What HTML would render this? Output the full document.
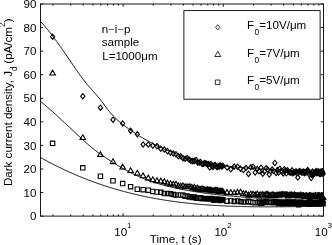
<!DOCTYPE html>
<html><head><meta charset="utf-8"><style>
html,body{margin:0;padding:0;background:#fff;width:332px;height:245px;overflow:hidden}
svg{display:block}
text{font-family:"Liberation Sans",Arial,Helvetica,sans-serif;fill:#000}
</style></head><body>
<svg width="332" height="245" viewBox="0 0 332 245">
<rect width="332" height="245" fill="#fff"/>
<g fill="none" stroke="#000" stroke-width="1">
<path d="M40.5 21.44 L41.21 22.2 L41.92 22.97 L42.63 23.75 L43.34 24.54 L44.05 25.35 L44.76 26.17 L45.46 27 L46.17 27.84 L46.88 28.7 L47.59 29.56 L48.3 30.44 L49.01 31.32 L49.72 32.22 L50.43 33.13 L51.14 34.04 L51.85 34.96 L52.56 35.9 L53.27 36.84 L53.98 37.79 L54.69 38.74 L55.39 39.7 L56.1 40.68 L56.81 41.65 L57.52 42.64 L58.23 43.63 L58.94 44.62 L59.65 45.62 L60.36 46.63 L61.07 47.64 L61.78 48.65 L62.49 49.67 L63.2 50.7 L63.91 51.72 L64.62 52.75 L65.32 53.78 L66.03 54.82 L66.74 55.86 L67.45 56.89 L68.16 57.94 L68.87 58.98 L69.58 60.02 L70.29 61.06 L71 62.11 L71.71 63.15 L72.42 64.19 L73.13 65.23 L73.84 66.27 L74.55 67.3 L75.25 68.33 L75.96 69.35 L76.67 70.37 L77.38 71.39 L78.09 72.39 L78.8 73.39 L79.51 74.38 L80.22 75.37 L80.93 76.34 L81.64 77.31 L82.35 78.26 L83.06 79.2 L83.77 80.13 L84.47 81.05 L85.18 81.95 L85.89 82.84 L86.6 83.72 L87.31 84.57 L88.02 85.42 L88.73 86.25 L89.44 87.06 L90.15 87.87 L90.86 88.67 L91.57 89.46 L92.28 90.25 L92.99 91.04 L93.7 91.82 L94.4 92.62 L95.11 93.41 L95.82 94.21 L96.53 95.03 L97.24 95.85 L97.95 96.69 L98.66 97.54 L99.37 98.41 L100.08 99.3 L100.79 100.22 L101.5 101.15 L102.21 102.1 L102.92 103.06 L103.63 104.03 L104.33 105 L105.04 105.97 L105.75 106.93 L106.46 107.88 L107.17 108.81 L107.88 109.72 L108.59 110.61 L109.3 111.47 L110.01 112.32 L110.72 113.14 L111.43 113.94 L112.14 114.72 L112.85 115.48 L113.56 116.22 L114.26 116.95 L114.97 117.66 L115.68 118.35 L116.39 119.02 L117.1 119.68 L117.81 120.33 L118.52 120.96 L119.23 121.57 L119.94 122.18 L120.65 122.77 L121.36 123.35 L122.07 123.92 L122.78 124.48 L123.48 125.04 L124.19 125.58 L124.9 126.12 L125.61 126.64 L126.32 127.17 L127.03 127.68 L127.74 128.19 L128.45 128.7 L129.16 129.2 L129.87 129.7 L130.58 130.19 L131.29 130.68 L132 131.16 L132.71 131.64 L133.41 132.12 L134.12 132.59 L134.83 133.06 L135.54 133.52 L136.25 133.98 L136.96 134.44 L137.67 134.89 L138.38 135.34 L139.09 135.78 L139.8 136.22 L140.51 136.66 L141.22 137.09 L141.93 137.52 L142.64 137.95 L143.34 138.37 L144.05 138.78 L144.76 139.19 L145.47 139.6 L146.18 140.01 L146.89 140.41 L147.6 140.81 L148.31 141.2 L149.02 141.59 L149.73 141.98 L150.44 142.36 L151.15 142.74 L151.86 143.11 L152.57 143.48 L153.27 143.85 L153.98 144.22 L154.69 144.58 L155.4 144.94 L156.11 145.29 L156.82 145.64 L157.53 145.99 L158.24 146.33 L158.95 146.67 L159.66 147 L160.37 147.34 L161.08 147.67 L161.79 147.99 L162.49 148.32 L163.2 148.63 L163.91 148.95 L164.62 149.26 L165.33 149.57 L166.04 149.88 L166.75 150.18 L167.46 150.48 L168.17 150.78 L168.88 151.07 L169.59 151.36 L170.3 151.65 L171.01 151.93 L171.72 152.21 L172.42 152.49 L173.13 152.76 L173.84 153.03 L174.55 153.3 L175.26 153.57 L175.97 153.83 L176.68 154.09 L177.39 154.35 L178.1 154.6 L178.81 154.85 L179.52 155.1 L180.23 155.34 L180.94 155.58 L181.65 155.82 L182.35 156.06 L183.06 156.29 L183.77 156.52 L184.48 156.75 L185.19 156.97 L185.9 157.19 L186.61 157.41 L187.32 157.63 L188.03 157.84 L188.74 158.06 L189.45 158.26 L190.16 158.47 L190.87 158.67 L191.58 158.87 L192.28 159.07 L192.99 159.27 L193.7 159.46 L194.41 159.65 L195.12 159.84 L195.83 160.02 L196.54 160.21 L197.25 160.39 L197.96 160.57 L198.67 160.74 L199.38 160.92 L200.09 161.09 L200.8 161.26 L201.51 161.42 L202.21 161.59 L202.92 161.75 L203.63 161.91 L204.34 162.06 L205.05 162.22 L205.76 162.37 L206.47 162.52 L207.18 162.67 L207.89 162.82 L208.6 162.96 L209.31 163.1 L210.02 163.24 L210.73 163.38 L211.43 163.52 L212.14 163.65 L212.85 163.78 L213.56 163.91 L214.27 164.04 L214.98 164.17 L215.69 164.29 L216.4 164.41 L217.11 164.53 L217.82 164.65 L218.53 164.77 L219.24 164.88 L219.95 164.99 L220.66 165.1 L221.36 165.21 L222.07 165.32 L222.78 165.43 L223.49 165.53 L224.2 165.63 L224.91 165.73 L225.62 165.83 L226.33 165.93 L227.04 166.02 L227.75 166.12 L228.46 166.21 L229.17 166.3 L229.88 166.39 L230.59 166.47 L231.29 166.56 L232 166.64 L232.71 166.73 L233.42 166.81 L234.13 166.89 L234.84 166.97 L235.55 167.04 L236.26 167.12 L236.97 167.19 L237.68 167.27 L238.39 167.34 L239.1 167.41 L239.81 167.48 L240.52 167.55 L241.22 167.61 L241.93 167.68 L242.64 167.74 L243.35 167.8 L244.06 167.86 L244.77 167.93 L245.48 167.98 L246.19 168.04 L246.9 168.1 L247.61 168.16 L248.32 168.21 L249.03 168.26 L249.74 168.32 L250.44 168.37 L251.15 168.42 L251.86 168.47 L252.57 168.52 L253.28 168.56 L253.99 168.61 L254.7 168.66 L255.41 168.7 L256.12 168.75 L256.83 168.79 L257.54 168.83 L258.25 168.87 L258.96 168.92 L259.67 168.96 L260.37 168.99 L261.08 169.03 L261.79 169.07 L262.5 169.11 L263.21 169.15 L263.92 169.18 L264.63 169.22 L265.34 169.25 L266.05 169.29 L266.76 169.32 L267.47 169.35 L268.18 169.38 L268.89 169.42 L269.6 169.45 L270.3 169.48 L271.01 169.51 L271.72 169.54 L272.43 169.57 L273.14 169.6 L273.85 169.63 L274.56 169.65 L275.27 169.68 L275.98 169.71 L276.69 169.74 L277.4 169.76 L278.11 169.79 L278.82 169.82 L279.53 169.84 L280.23 169.87 L280.94 169.9 L281.65 169.92 L282.36 169.95 L283.07 169.97 L283.78 170 L284.49 170.02 L285.2 170.05 L285.91 170.07 L286.62 170.1 L287.33 170.12 L288.04 170.15 L288.75 170.17 L289.45 170.2 L290.16 170.22 L290.87 170.25 L291.58 170.27 L292.29 170.3 L293 170.32 L293.71 170.35 L294.42 170.38 L295.13 170.4 L295.84 170.43 L296.55 170.45 L297.26 170.48 L297.97 170.51 L298.68 170.53 L299.38 170.56 L300.09 170.59 L300.8 170.62 L301.51 170.65 L302.22 170.67 L302.93 170.7 L303.64 170.73 L304.35 170.76 L305.06 170.79 L305.77 170.82 L306.48 170.85 L307.19 170.89 L307.9 170.92 L308.61 170.95 L309.31 170.99 L310.02 171.02 L310.73 171.05 L311.44 171.09 L312.15 171.13 L312.86 171.16 L313.57 171.2 L314.28 171.24 L314.99 171.28 L315.7 171.31 L316.41 171.35 L317.12 171.4 L317.83 171.44 L318.54 171.48 L319.24 171.52 L319.95 171.57 L320.66 171.61 L321.37 171.66 L322.08 171.7 L322.79 171.75 L323.5 171.8"/>
<path d="M40.5 101.35 L41.21 101.93 L41.92 102.52 L42.63 103.11 L43.34 103.7 L44.05 104.29 L44.76 104.89 L45.46 105.5 L46.17 106.1 L46.88 106.71 L47.59 107.33 L48.3 107.94 L49.01 108.56 L49.72 109.18 L50.43 109.81 L51.14 110.44 L51.85 111.07 L52.56 111.7 L53.27 112.33 L53.98 112.97 L54.69 113.61 L55.39 114.25 L56.1 114.9 L56.81 115.55 L57.52 116.19 L58.23 116.84 L58.94 117.49 L59.65 118.15 L60.36 118.8 L61.07 119.46 L61.78 120.12 L62.49 120.77 L63.2 121.43 L63.91 122.09 L64.62 122.75 L65.32 123.42 L66.03 124.08 L66.74 124.74 L67.45 125.41 L68.16 126.07 L68.87 126.73 L69.58 127.4 L70.29 128.06 L71 128.73 L71.71 129.39 L72.42 130.06 L73.13 130.72 L73.84 131.38 L74.55 132.05 L75.25 132.71 L75.96 133.37 L76.67 134.03 L77.38 134.69 L78.09 135.35 L78.8 136.01 L79.51 136.66 L80.22 137.32 L80.93 137.97 L81.64 138.62 L82.35 139.27 L83.06 139.92 L83.77 140.57 L84.47 141.21 L85.18 141.85 L85.89 142.49 L86.6 143.12 L87.31 143.75 L88.02 144.37 L88.73 144.99 L89.44 145.61 L90.15 146.21 L90.86 146.81 L91.57 147.4 L92.28 147.99 L92.99 148.57 L93.7 149.13 L94.4 149.69 L95.11 150.25 L95.82 150.79 L96.53 151.33 L97.24 151.86 L97.95 152.38 L98.66 152.9 L99.37 153.41 L100.08 153.92 L100.79 154.41 L101.5 154.91 L102.21 155.4 L102.92 155.88 L103.63 156.36 L104.33 156.84 L105.04 157.31 L105.75 157.78 L106.46 158.24 L107.17 158.7 L107.88 159.16 L108.59 159.62 L109.3 160.07 L110.01 160.53 L110.72 160.98 L111.43 161.43 L112.14 161.87 L112.85 162.32 L113.56 162.77 L114.26 163.21 L114.97 163.66 L115.68 164.1 L116.39 164.54 L117.1 164.98 L117.81 165.42 L118.52 165.85 L119.23 166.28 L119.94 166.71 L120.65 167.13 L121.36 167.55 L122.07 167.97 L122.78 168.39 L123.48 168.8 L124.19 169.2 L124.9 169.6 L125.61 170 L126.32 170.39 L127.03 170.77 L127.74 171.16 L128.45 171.53 L129.16 171.9 L129.87 172.27 L130.58 172.63 L131.29 172.99 L132 173.35 L132.71 173.7 L133.41 174.04 L134.12 174.38 L134.83 174.72 L135.54 175.05 L136.25 175.38 L136.96 175.7 L137.67 176.02 L138.38 176.34 L139.09 176.65 L139.8 176.95 L140.51 177.26 L141.22 177.56 L141.93 177.85 L142.64 178.14 L143.34 178.43 L144.05 178.71 L144.76 178.99 L145.47 179.27 L146.18 179.54 L146.89 179.81 L147.6 180.07 L148.31 180.34 L149.02 180.59 L149.73 180.85 L150.44 181.1 L151.15 181.35 L151.86 181.59 L152.57 181.83 L153.27 182.07 L153.98 182.3 L154.69 182.53 L155.4 182.76 L156.11 182.99 L156.82 183.21 L157.53 183.43 L158.24 183.64 L158.95 183.85 L159.66 184.06 L160.37 184.27 L161.08 184.47 L161.79 184.68 L162.49 184.87 L163.2 185.07 L163.91 185.26 L164.62 185.45 L165.33 185.64 L166.04 185.82 L166.75 186.01 L167.46 186.19 L168.17 186.36 L168.88 186.54 L169.59 186.71 L170.3 186.88 L171.01 187.05 L171.72 187.22 L172.42 187.38 L173.13 187.54 L173.84 187.7 L174.55 187.86 L175.26 188.01 L175.97 188.17 L176.68 188.32 L177.39 188.47 L178.1 188.61 L178.81 188.76 L179.52 188.9 L180.23 189.04 L180.94 189.19 L181.65 189.32 L182.35 189.46 L183.06 189.6 L183.77 189.73 L184.48 189.86 L185.19 189.99 L185.9 190.12 L186.61 190.25 L187.32 190.37 L188.03 190.5 L188.74 190.62 L189.45 190.75 L190.16 190.87 L190.87 190.99 L191.58 191.11 L192.28 191.22 L192.99 191.34 L193.7 191.46 L194.41 191.57 L195.12 191.68 L195.83 191.8 L196.54 191.91 L197.25 192.02 L197.96 192.13 L198.67 192.23 L199.38 192.34 L200.09 192.44 L200.8 192.55 L201.51 192.65 L202.21 192.75 L202.92 192.86 L203.63 192.96 L204.34 193.05 L205.05 193.15 L205.76 193.25 L206.47 193.35 L207.18 193.44 L207.89 193.53 L208.6 193.63 L209.31 193.72 L210.02 193.81 L210.73 193.9 L211.43 193.99 L212.14 194.08 L212.85 194.16 L213.56 194.25 L214.27 194.34 L214.98 194.42 L215.69 194.5 L216.4 194.59 L217.11 194.67 L217.82 194.75 L218.53 194.83 L219.24 194.91 L219.95 194.98 L220.66 195.06 L221.36 195.14 L222.07 195.21 L222.78 195.29 L223.49 195.36 L224.2 195.43 L224.91 195.51 L225.62 195.58 L226.33 195.65 L227.04 195.72 L227.75 195.79 L228.46 195.85 L229.17 195.92 L229.88 195.99 L230.59 196.05 L231.29 196.12 L232 196.18 L232.71 196.25 L233.42 196.31 L234.13 196.37 L234.84 196.43 L235.55 196.49 L236.26 196.55 L236.97 196.61 L237.68 196.67 L238.39 196.73 L239.1 196.78 L239.81 196.84 L240.52 196.9 L241.22 196.95 L241.93 197.01 L242.64 197.06 L243.35 197.11 L244.06 197.16 L244.77 197.22 L245.48 197.27 L246.19 197.32 L246.9 197.37 L247.61 197.42 L248.32 197.47 L249.03 197.51 L249.74 197.56 L250.44 197.61 L251.15 197.66 L251.86 197.7 L252.57 197.75 L253.28 197.79 L253.99 197.84 L254.7 197.88 L255.41 197.92 L256.12 197.97 L256.83 198.01 L257.54 198.05 L258.25 198.09 L258.96 198.13 L259.67 198.17 L260.37 198.21 L261.08 198.25 L261.79 198.29 L262.5 198.33 L263.21 198.37 L263.92 198.41 L264.63 198.44 L265.34 198.48 L266.05 198.52 L266.76 198.55 L267.47 198.59 L268.18 198.62 L268.89 198.66 L269.6 198.69 L270.3 198.73 L271.01 198.76 L271.72 198.79 L272.43 198.83 L273.14 198.86 L273.85 198.89 L274.56 198.92 L275.27 198.96 L275.98 198.99 L276.69 199.02 L277.4 199.05 L278.11 199.08 L278.82 199.11 L279.53 199.14 L280.23 199.17 L280.94 199.2 L281.65 199.23 L282.36 199.26 L283.07 199.29 L283.78 199.32 L284.49 199.34 L285.2 199.37 L285.91 199.4 L286.62 199.43 L287.33 199.46 L288.04 199.48 L288.75 199.51 L289.45 199.54 L290.16 199.57 L290.87 199.59 L291.58 199.62 L292.29 199.65 L293 199.67 L293.71 199.7 L294.42 199.72 L295.13 199.75 L295.84 199.78 L296.55 199.8 L297.26 199.83 L297.97 199.85 L298.68 199.88 L299.38 199.91 L300.09 199.93 L300.8 199.96 L301.51 199.98 L302.22 200.01 L302.93 200.03 L303.64 200.06 L304.35 200.08 L305.06 200.11 L305.77 200.14 L306.48 200.16 L307.19 200.19 L307.9 200.21 L308.61 200.24 L309.31 200.26 L310.02 200.29 L310.73 200.31 L311.44 200.34 L312.15 200.37 L312.86 200.39 L313.57 200.42 L314.28 200.44 L314.99 200.47 L315.7 200.5 L316.41 200.52 L317.12 200.55 L317.83 200.57 L318.54 200.6 L319.24 200.63 L319.95 200.66 L320.66 200.68 L321.37 200.71 L322.08 200.74 L322.79 200.76 L323.5 200.79"/>
<path d="M40.5 157.46 L41.21 157.86 L41.92 158.26 L42.63 158.66 L43.34 159.05 L44.05 159.44 L44.76 159.83 L45.46 160.22 L46.17 160.6 L46.88 160.98 L47.59 161.36 L48.3 161.74 L49.01 162.12 L49.72 162.49 L50.43 162.87 L51.14 163.24 L51.85 163.61 L52.56 163.97 L53.27 164.34 L53.98 164.7 L54.69 165.06 L55.39 165.42 L56.1 165.78 L56.81 166.13 L57.52 166.48 L58.23 166.83 L58.94 167.18 L59.65 167.53 L60.36 167.87 L61.07 168.22 L61.78 168.56 L62.49 168.9 L63.2 169.23 L63.91 169.57 L64.62 169.9 L65.32 170.23 L66.03 170.56 L66.74 170.89 L67.45 171.22 L68.16 171.54 L68.87 171.86 L69.58 172.18 L70.29 172.5 L71 172.82 L71.71 173.13 L72.42 173.44 L73.13 173.75 L73.84 174.06 L74.55 174.37 L75.25 174.68 L75.96 174.98 L76.67 175.28 L77.38 175.58 L78.09 175.88 L78.8 176.17 L79.51 176.47 L80.22 176.76 L80.93 177.05 L81.64 177.34 L82.35 177.63 L83.06 177.91 L83.77 178.19 L84.47 178.48 L85.18 178.76 L85.89 179.03 L86.6 179.31 L87.31 179.58 L88.02 179.86 L88.73 180.13 L89.44 180.4 L90.15 180.67 L90.86 180.93 L91.57 181.2 L92.28 181.46 L92.99 181.72 L93.7 181.98 L94.4 182.23 L95.11 182.49 L95.82 182.74 L96.53 183 L97.24 183.25 L97.95 183.49 L98.66 183.74 L99.37 183.99 L100.08 184.23 L100.79 184.47 L101.5 184.71 L102.21 184.95 L102.92 185.19 L103.63 185.43 L104.33 185.66 L105.04 185.89 L105.75 186.12 L106.46 186.35 L107.17 186.58 L107.88 186.8 L108.59 187.03 L109.3 187.25 L110.01 187.47 L110.72 187.69 L111.43 187.91 L112.14 188.12 L112.85 188.34 L113.56 188.55 L114.26 188.76 L114.97 188.97 L115.68 189.18 L116.39 189.39 L117.1 189.59 L117.81 189.8 L118.52 190 L119.23 190.2 L119.94 190.4 L120.65 190.6 L121.36 190.79 L122.07 190.99 L122.78 191.18 L123.48 191.37 L124.19 191.56 L124.9 191.75 L125.61 191.94 L126.32 192.13 L127.03 192.31 L127.74 192.49 L128.45 192.67 L129.16 192.85 L129.87 193.03 L130.58 193.21 L131.29 193.38 L132 193.56 L132.71 193.73 L133.41 193.9 L134.12 194.07 L134.83 194.24 L135.54 194.41 L136.25 194.57 L136.96 194.74 L137.67 194.9 L138.38 195.06 L139.09 195.22 L139.8 195.38 L140.51 195.54 L141.22 195.69 L141.93 195.85 L142.64 196 L143.34 196.15 L144.05 196.3 L144.76 196.45 L145.47 196.6 L146.18 196.75 L146.89 196.89 L147.6 197.03 L148.31 197.18 L149.02 197.32 L149.73 197.46 L150.44 197.6 L151.15 197.73 L151.86 197.87 L152.57 198 L153.27 198.14 L153.98 198.27 L154.69 198.4 L155.4 198.53 L156.11 198.66 L156.82 198.79 L157.53 198.91 L158.24 199.04 L158.95 199.16 L159.66 199.28 L160.37 199.4 L161.08 199.52 L161.79 199.64 L162.49 199.76 L163.2 199.87 L163.91 199.99 L164.62 200.1 L165.33 200.21 L166.04 200.32 L166.75 200.43 L167.46 200.54 L168.17 200.65 L168.88 200.76 L169.59 200.86 L170.3 200.97 L171.01 201.07 L171.72 201.17 L172.42 201.27 L173.13 201.37 L173.84 201.47 L174.55 201.57 L175.26 201.66 L175.97 201.76 L176.68 201.85 L177.39 201.94 L178.1 202.04 L178.81 202.13 L179.52 202.22 L180.23 202.3 L180.94 202.39 L181.65 202.48 L182.35 202.56 L183.06 202.65 L183.77 202.73 L184.48 202.81 L185.19 202.89 L185.9 202.97 L186.61 203.05 L187.32 203.13 L188.03 203.21 L188.74 203.28 L189.45 203.36 L190.16 203.43 L190.87 203.51 L191.58 203.58 L192.28 203.65 L192.99 203.72 L193.7 203.79 L194.41 203.86 L195.12 203.92 L195.83 203.99 L196.54 204.05 L197.25 204.12 L197.96 204.18 L198.67 204.24 L199.38 204.31 L200.09 204.37 L200.8 204.43 L201.51 204.48 L202.21 204.54 L202.92 204.6 L203.63 204.66 L204.34 204.71 L205.05 204.77 L205.76 204.82 L206.47 204.87 L207.18 204.92 L207.89 204.97 L208.6 205.02 L209.31 205.07 L210.02 205.12 L210.73 205.17 L211.43 205.22 L212.14 205.26 L212.85 205.31 L213.56 205.35 L214.27 205.4 L214.98 205.44 L215.69 205.48 L216.4 205.52 L217.11 205.56 L217.82 205.6 L218.53 205.64 L219.24 205.68 L219.95 205.72 L220.66 205.75 L221.36 205.79 L222.07 205.82 L222.78 205.86 L223.49 205.89 L224.2 205.92 L224.91 205.96 L225.62 205.99 L226.33 206.02 L227.04 206.05 L227.75 206.08 L228.46 206.11 L229.17 206.14 L229.88 206.16 L230.59 206.19 L231.29 206.22 L232 206.24 L232.71 206.27 L233.42 206.29 L234.13 206.31 L234.84 206.34 L235.55 206.36 L236.26 206.38 L236.97 206.4 L237.68 206.42 L238.39 206.44 L239.1 206.46 L239.81 206.48 L240.52 206.5 L241.22 206.52 L241.93 206.53 L242.64 206.55 L243.35 206.57 L244.06 206.58 L244.77 206.6 L245.48 206.61 L246.19 206.62 L246.9 206.64 L247.61 206.65 L248.32 206.66 L249.03 206.67 L249.74 206.69 L250.44 206.7 L251.15 206.71 L251.86 206.72 L252.57 206.73 L253.28 206.73 L253.99 206.74 L254.7 206.75 L255.41 206.76 L256.12 206.76 L256.83 206.77 L257.54 206.78 L258.25 206.78 L258.96 206.79 L259.67 206.79 L260.37 206.8 L261.08 206.8 L261.79 206.8 L262.5 206.81 L263.21 206.81 L263.92 206.81 L264.63 206.81 L265.34 206.82 L266.05 206.82 L266.76 206.82 L267.47 206.82 L268.18 206.82 L268.89 206.82 L269.6 206.82 L270.3 206.82 L271.01 206.82 L271.72 206.81 L272.43 206.81 L273.14 206.81 L273.85 206.81 L274.56 206.8 L275.27 206.8 L275.98 206.8 L276.69 206.79 L277.4 206.79 L278.11 206.79 L278.82 206.78 L279.53 206.78 L280.23 206.77 L280.94 206.77 L281.65 206.76 L282.36 206.76 L283.07 206.75 L283.78 206.74 L284.49 206.74 L285.2 206.73 L285.91 206.72 L286.62 206.72 L287.33 206.71 L288.04 206.7 L288.75 206.7 L289.45 206.69 L290.16 206.68 L290.87 206.67 L291.58 206.66 L292.29 206.66 L293 206.65 L293.71 206.64 L294.42 206.63 L295.13 206.62 L295.84 206.61 L296.55 206.6 L297.26 206.59 L297.97 206.58 L298.68 206.58 L299.38 206.57 L300.09 206.56 L300.8 206.55 L301.51 206.54 L302.22 206.53 L302.93 206.52 L303.64 206.51 L304.35 206.5 L305.06 206.49 L305.77 206.48 L306.48 206.47 L307.19 206.46 L307.9 206.45 L308.61 206.44 L309.31 206.43 L310.02 206.42 L310.73 206.41 L311.44 206.4 L312.15 206.39 L312.86 206.38 L313.57 206.37 L314.28 206.36 L314.99 206.35 L315.7 206.34 L316.41 206.33 L317.12 206.32 L317.83 206.31 L318.54 206.3 L319.24 206.29 L319.95 206.28 L320.66 206.27 L321.37 206.26 L322.08 206.25 L322.79 206.24 L323.5 206.23"/>
</g>
<g fill="none" stroke="#000" stroke-width="1.1">
<path d="M52.62 34.11l2.15 2.65l-2.15 2.65l-2.15 -2.65zM82.79 93.5l2.15 2.65l-2.15 2.65l-2.15 -2.65zM100.44 105.04l2.15 2.65l-2.15 2.65l-2.15 -2.65zM112.96 117.06l2.15 2.65l-2.15 2.65l-2.15 -2.65zM122.67 120.83l2.15 2.65l-2.15 2.65l-2.15 -2.65zM130.6 128.14l2.15 2.65l-2.15 2.65l-2.15 -2.65zM137.31 131.67l2.15 2.65l-2.15 2.65l-2.15 -2.65zM143.12 141.81l2.15 2.65l-2.15 2.65l-2.15 -2.65zM148.25 141.81l2.15 2.65l-2.15 2.65l-2.15 -2.65zM152.84 142.99l2.15 2.65l-2.15 2.65l-2.15 -2.65zM156.98 143.46l2.15 2.65l-2.15 2.65l-2.15 -2.65zM160.77 146.05l2.15 2.65l-2.15 2.65l-2.15 -2.65zM164.26 146.76l2.15 2.65l-2.15 2.65l-2.15 -2.65zM167.48 148.48l2.15 2.65l-2.15 2.65l-2.15 -2.65zM170.48 150.17l2.15 2.65l-2.15 2.65l-2.15 -2.65zM173.29 150.94l2.15 2.65l-2.15 2.65l-2.15 -2.65zM175.93 151.5l2.15 2.65l-2.15 2.65l-2.15 -2.65zM178.42 153.48l2.15 2.65l-2.15 2.65l-2.15 -2.65zM180.77 153.5l2.15 2.65l-2.15 2.65l-2.15 -2.65zM183 155.55l2.15 2.65l-2.15 2.65l-2.15 -2.65zM185.13 156.1l2.15 2.65l-2.15 2.65l-2.15 -2.65zM187.15 155.3l2.15 2.65l-2.15 2.65l-2.15 -2.65zM189.09 156.8l2.15 2.65l-2.15 2.65l-2.15 -2.65zM190.94 158.3l2.15 2.65l-2.15 2.65l-2.15 -2.65zM192.72 158.46l2.15 2.65l-2.15 2.65l-2.15 -2.65zM194.42 158.21l2.15 2.65l-2.15 2.65l-2.15 -2.65zM196.07 157.29l2.15 2.65l-2.15 2.65l-2.15 -2.65zM197.65 159.75l2.15 2.65l-2.15 2.65l-2.15 -2.65zM199.18 160.08l2.15 2.65l-2.15 2.65l-2.15 -2.65zM200.65 159.25l2.15 2.65l-2.15 2.65l-2.15 -2.65zM202.08 161.35l2.15 2.65l-2.15 2.65l-2.15 -2.65zM203.46 161.1l2.15 2.65l-2.15 2.65l-2.15 -2.65zM204.8 160.29l2.15 2.65l-2.15 2.65l-2.15 -2.65zM206.1 160.85l2.15 2.65l-2.15 2.65l-2.15 -2.65zM207.36 161.57l2.15 2.65l-2.15 2.65l-2.15 -2.65zM208.59 161.28l2.15 2.65l-2.15 2.65l-2.15 -2.65zM209.78 164.81l2.15 2.65l-2.15 2.65l-2.15 -2.65zM210.94 161.4l2.15 2.65l-2.15 2.65l-2.15 -2.65zM212.07 163.48l2.15 2.65l-2.15 2.65l-2.15 -2.65zM213.17 164.34l2.15 2.65l-2.15 2.65l-2.15 -2.65zM214.25 162.7l2.15 2.65l-2.15 2.65l-2.15 -2.65zM215.3 162.47l2.15 2.65l-2.15 2.65l-2.15 -2.65zM216.32 163.71l2.15 2.65l-2.15 2.65l-2.15 -2.65zM217.32 164.47l2.15 2.65l-2.15 2.65l-2.15 -2.65zM218.3 163.58l2.15 2.65l-2.15 2.65l-2.15 -2.65zM219.26 163.79l2.15 2.65l-2.15 2.65l-2.15 -2.65zM220.19 162.54l2.15 2.65l-2.15 2.65l-2.15 -2.65zM221.11 163.28l2.15 2.65l-2.15 2.65l-2.15 -2.65zM222.01 163.92l2.15 2.65l-2.15 2.65l-2.15 -2.65zM222.88 163.15l2.15 2.65l-2.15 2.65l-2.15 -2.65zM227.03 164.86l2.15 2.65l-2.15 2.65l-2.15 -2.65zM230.82 166.61l2.15 2.65l-2.15 2.65l-2.15 -2.65zM234.3 163.9l2.15 2.65l-2.15 2.65l-2.15 -2.65zM237.53 164.11l2.15 2.65l-2.15 2.65l-2.15 -2.65zM240.53 165.98l2.15 2.65l-2.15 2.65l-2.15 -2.65zM243.34 167.34l2.15 2.65l-2.15 2.65l-2.15 -2.65zM245.98 165.33l2.15 2.65l-2.15 2.65l-2.15 -2.65zM248.47 171.23l2.15 2.65l-2.15 2.65l-2.15 -2.65zM250.82 164.6l2.15 2.65l-2.15 2.65l-2.15 -2.65zM253.05 164.05l2.15 2.65l-2.15 2.65l-2.15 -2.65zM255.18 169.78l2.15 2.65l-2.15 2.65l-2.15 -2.65zM257.2 166.3l2.15 2.65l-2.15 2.65l-2.15 -2.65zM259.14 168.6l2.15 2.65l-2.15 2.65l-2.15 -2.65zM260.99 165.08l2.15 2.65l-2.15 2.65l-2.15 -2.65zM262.76 171.13l2.15 2.65l-2.15 2.65l-2.15 -2.65zM264.47 168.89l2.15 2.65l-2.15 2.65l-2.15 -2.65zM266.11 165.58l2.15 2.65l-2.15 2.65l-2.15 -2.65zM267.7 166.76l2.15 2.65l-2.15 2.65l-2.15 -2.65zM269.22 171.94l2.15 2.65l-2.15 2.65l-2.15 -2.65zM270.7 168.55l2.15 2.65l-2.15 2.65l-2.15 -2.65zM272.13 166.93l2.15 2.65l-2.15 2.65l-2.15 -2.65zM273.51 168.37l2.15 2.65l-2.15 2.65l-2.15 -2.65zM274.85 160.27l2.15 2.65l-2.15 2.65l-2.15 -2.65zM276.15 170.22l2.15 2.65l-2.15 2.65l-2.15 -2.65zM277.41 167.44l2.15 2.65l-2.15 2.65l-2.15 -2.65zM278.63 169.95l2.15 2.65l-2.15 2.65l-2.15 -2.65zM279.83 166.06l2.15 2.65l-2.15 2.65l-2.15 -2.65zM280.99 168.4l2.15 2.65l-2.15 2.65l-2.15 -2.65zM282.12 168.97l2.15 2.65l-2.15 2.65l-2.15 -2.65zM283.22 170.76l2.15 2.65l-2.15 2.65l-2.15 -2.65zM284.29 166.55l2.15 2.65l-2.15 2.65l-2.15 -2.65zM285.34 167.8l2.15 2.65l-2.15 2.65l-2.15 -2.65zM286.37 170.7l2.15 2.65l-2.15 2.65l-2.15 -2.65zM287.37 167.57l2.15 2.65l-2.15 2.65l-2.15 -2.65zM288.35 168.49l2.15 2.65l-2.15 2.65l-2.15 -2.65zM289.3 169.59l2.15 2.65l-2.15 2.65l-2.15 -2.65zM290.24 169.81l2.15 2.65l-2.15 2.65l-2.15 -2.65zM291.16 169.86l2.15 2.65l-2.15 2.65l-2.15 -2.65zM292.05 167.66l2.15 2.65l-2.15 2.65l-2.15 -2.65zM292.93 170.64l2.15 2.65l-2.15 2.65l-2.15 -2.65zM293.79 169.8l2.15 2.65l-2.15 2.65l-2.15 -2.65zM294.64 169.56l2.15 2.65l-2.15 2.65l-2.15 -2.65zM295.47 169.06l2.15 2.65l-2.15 2.65l-2.15 -2.65zM296.28 168.75l2.15 2.65l-2.15 2.65l-2.15 -2.65zM297.08 170.63l2.15 2.65l-2.15 2.65l-2.15 -2.65zM297.86 174.89l2.15 2.65l-2.15 2.65l-2.15 -2.65zM298.63 169.47l2.15 2.65l-2.15 2.65l-2.15 -2.65zM299.39 168.3l2.15 2.65l-2.15 2.65l-2.15 -2.65zM300.14 168.79l2.15 2.65l-2.15 2.65l-2.15 -2.65zM300.87 169.37l2.15 2.65l-2.15 2.65l-2.15 -2.65zM301.59 169.94l2.15 2.65l-2.15 2.65l-2.15 -2.65zM302.29 169.37l2.15 2.65l-2.15 2.65l-2.15 -2.65zM302.99 169.94l2.15 2.65l-2.15 2.65l-2.15 -2.65zM303.68 168.94l2.15 2.65l-2.15 2.65l-2.15 -2.65zM304.35 170.54l2.15 2.65l-2.15 2.65l-2.15 -2.65zM305.02 169.67l2.15 2.65l-2.15 2.65l-2.15 -2.65zM305.67 169.94l2.15 2.65l-2.15 2.65l-2.15 -2.65zM306.31 169.34l2.15 2.65l-2.15 2.65l-2.15 -2.65zM306.95 169.68l2.15 2.65l-2.15 2.65l-2.15 -2.65zM307.58 167.47l2.15 2.65l-2.15 2.65l-2.15 -2.65zM308.19 168.52l2.15 2.65l-2.15 2.65l-2.15 -2.65zM308.8 168.55l2.15 2.65l-2.15 2.65l-2.15 -2.65zM309.4 171.97l2.15 2.65l-2.15 2.65l-2.15 -2.65zM309.99 170.37l2.15 2.65l-2.15 2.65l-2.15 -2.65zM310.58 170.85l2.15 2.65l-2.15 2.65l-2.15 -2.65zM311.16 175.44l2.15 2.65l-2.15 2.65l-2.15 -2.65zM311.72 172.3l2.15 2.65l-2.15 2.65l-2.15 -2.65zM312.29 169.03l2.15 2.65l-2.15 2.65l-2.15 -2.65zM312.84 169.16l2.15 2.65l-2.15 2.65l-2.15 -2.65zM313.39 171.43l2.15 2.65l-2.15 2.65l-2.15 -2.65zM313.93 171.15l2.15 2.65l-2.15 2.65l-2.15 -2.65zM314.46 171l2.15 2.65l-2.15 2.65l-2.15 -2.65zM314.99 170.22l2.15 2.65l-2.15 2.65l-2.15 -2.65zM315.51 169.68l2.15 2.65l-2.15 2.65l-2.15 -2.65zM316.03 168.36l2.15 2.65l-2.15 2.65l-2.15 -2.65zM316.54 170.51l2.15 2.65l-2.15 2.65l-2.15 -2.65zM317.04 169.62l2.15 2.65l-2.15 2.65l-2.15 -2.65zM317.54 170.22l2.15 2.65l-2.15 2.65l-2.15 -2.65zM318.03 168.72l2.15 2.65l-2.15 2.65l-2.15 -2.65zM318.51 169.7l2.15 2.65l-2.15 2.65l-2.15 -2.65zM319 169.13l2.15 2.65l-2.15 2.65l-2.15 -2.65zM319.47 171.45l2.15 2.65l-2.15 2.65l-2.15 -2.65zM319.94 170.63l2.15 2.65l-2.15 2.65l-2.15 -2.65zM320.41 171.24l2.15 2.65l-2.15 2.65l-2.15 -2.65zM320.87 169.07l2.15 2.65l-2.15 2.65l-2.15 -2.65zM321.32 169.88l2.15 2.65l-2.15 2.65l-2.15 -2.65zM321.77 170.8l2.15 2.65l-2.15 2.65l-2.15 -2.65zM322.22 168.58l2.15 2.65l-2.15 2.65l-2.15 -2.65zM322.66 170.09l2.15 2.65l-2.15 2.65l-2.15 -2.65zM323.1 171.22l2.15 2.65l-2.15 2.65l-2.15 -2.65z"/>
<path d="M52.62 70.18L55.42 74.98L49.82 74.98zM82.79 134.75L85.59 139.55L79.99 139.55zM100.44 151.72L103.24 156.52L97.64 156.52zM112.96 158.79L115.76 163.59L110.16 163.59zM122.67 164.21L125.47 169.01L119.87 169.01zM130.6 167.74L133.4 172.54L127.8 172.54zM137.31 170.34L140.11 175.14L134.51 175.14zM143.12 172.93L145.92 177.73L140.32 177.73zM148.25 175.05L151.05 179.85L145.45 179.85zM152.84 176.84L155.64 181.64L150.04 181.64zM156.98 177.8L159.78 182.6L154.18 182.6zM160.77 178.13L163.57 182.93L157.97 182.93zM164.26 178.84L167.06 183.64L161.46 183.64zM167.48 180.21L170.28 185.01L164.68 185.01zM170.48 180.84L173.28 185.64L167.68 185.64zM173.29 181.3L176.09 186.1L170.49 186.1zM175.93 181.31L178.73 186.11L173.13 186.11zM178.42 182.82L181.22 187.62L175.62 187.62zM180.77 183.33L183.57 188.13L177.97 188.13zM183 182.91L185.8 187.71L180.2 187.71zM185.13 183.87L187.93 188.67L182.33 188.67zM187.15 183.92L189.95 188.72L184.35 188.72zM189.09 183.89L191.89 188.69L186.29 188.69zM190.94 184L193.74 188.8L188.14 188.8zM192.72 185.08L195.52 189.88L189.92 189.88zM194.42 184.45L197.22 189.25L191.62 189.25zM196.07 186.01L198.87 190.81L193.27 190.81zM197.65 185.16L200.45 189.96L194.85 189.96zM199.18 186.46L201.98 191.26L196.38 191.26zM200.65 186.57L203.45 191.37L197.85 191.37zM202.08 185.88L204.88 190.68L199.28 190.68zM203.46 186.62L206.26 191.42L200.66 191.42zM204.8 187.02L207.6 191.82L202 191.82zM206.1 187.05L208.9 191.85L203.3 191.85zM207.36 186.79L210.16 191.59L204.56 191.59zM208.59 187.21L211.39 192.01L205.79 192.01zM209.78 187.35L212.58 192.15L206.98 192.15zM210.94 186.98L213.74 191.78L208.14 191.78zM212.07 187.95L214.87 192.75L209.27 192.75zM213.17 187.97L215.97 192.77L210.37 192.77zM214.25 188.12L217.05 192.92L211.45 192.92zM215.3 187.45L218.1 192.25L212.5 192.25zM216.32 187.65L219.12 192.45L213.52 192.45zM217.32 187.62L220.12 192.42L214.52 192.42zM218.3 188.36L221.1 193.16L215.5 193.16zM219.26 188.53L222.06 193.33L216.46 193.33zM220.19 188.15L222.99 192.95L217.39 192.95zM221.11 188.84L223.91 193.64L218.31 193.64zM222.01 188.36L224.81 193.16L219.21 193.16zM222.88 188.51L225.68 193.31L220.08 193.31zM227.03 189.61L229.83 194.41L224.23 194.41zM230.82 189.69L233.62 194.49L228.02 194.49zM234.3 190.02L237.1 194.82L231.5 194.82zM237.53 189.42L240.33 194.22L234.73 194.22zM240.53 189.25L243.33 194.05L237.73 194.05zM243.34 190.73L246.14 195.53L240.54 195.53zM245.98 190.85L248.78 195.65L243.18 195.65zM248.47 192.1L251.27 196.9L245.67 196.9zM250.82 191.04L253.62 195.84L248.02 195.84zM253.05 191.26L255.85 196.06L250.25 196.06zM255.18 191.87L257.98 196.67L252.38 196.67zM257.2 191.08L260 195.88L254.4 195.88zM259.14 192.3L261.94 197.1L256.34 197.1zM260.99 191.72L263.79 196.52L258.19 196.52zM262.76 191.62L265.56 196.42L259.96 196.42zM264.47 192.37L267.27 197.17L261.67 197.17zM266.11 191.4L268.91 196.2L263.31 196.2zM267.7 191.36L270.5 196.16L264.9 196.16zM269.22 192.62L272.02 197.42L266.42 197.42zM270.7 192.68L273.5 197.48L267.9 197.48zM272.13 191.74L274.93 196.54L269.33 196.54zM273.51 192.1L276.31 196.9L270.71 196.9zM274.85 192.73L277.65 197.53L272.05 197.53zM276.15 192.32L278.95 197.12L273.35 197.12zM277.41 192.27L280.21 197.07L274.61 197.07zM278.63 192.33L281.43 197.13L275.83 197.13zM279.83 191.89L282.63 196.69L277.03 196.69zM280.99 192.15L283.79 196.95L278.19 196.95zM282.12 191.48L284.92 196.28L279.32 196.28zM283.22 191.72L286.02 196.52L280.42 196.52zM284.29 192.11L287.09 196.91L281.49 196.91zM285.34 191.94L288.14 196.74L282.54 196.74zM286.37 191.85L289.17 196.65L283.57 196.65zM287.37 192.2L290.17 197L284.57 197zM288.35 193.22L291.15 198.02L285.55 198.02zM289.3 192.18L292.1 196.98L286.5 196.98zM290.24 192.62L293.04 197.42L287.44 197.42zM291.16 191.85L293.96 196.65L288.36 196.65zM292.05 192.67L294.85 197.47L289.25 197.47zM292.93 192.48L295.73 197.28L290.13 197.28zM293.79 192.61L296.59 197.41L290.99 197.41zM294.64 191.93L297.44 196.73L291.84 196.73zM295.47 192.74L298.27 197.54L292.67 197.54zM296.28 193L299.08 197.8L293.48 197.8zM297.08 192.72L299.88 197.52L294.28 197.52zM297.86 193.15L300.66 197.95L295.06 197.95zM298.63 192.85L301.43 197.65L295.83 197.65zM299.39 192.97L302.19 197.77L296.59 197.77zM300.14 192.84L302.94 197.64L297.34 197.64zM300.87 191.98L303.67 196.78L298.07 196.78zM301.59 193.25L304.39 198.05L298.79 198.05zM302.29 193.04L305.09 197.84L299.49 197.84zM302.99 193.19L305.79 197.99L300.19 197.99zM303.68 192.74L306.48 197.54L300.88 197.54zM304.35 193.76L307.15 198.56L301.55 198.56zM305.02 193.52L307.82 198.32L302.22 198.32zM305.67 193.18L308.47 197.98L302.87 197.98zM306.31 192.88L309.11 197.68L303.51 197.68zM306.95 193.23L309.75 198.03L304.15 198.03zM307.58 193.5L310.38 198.3L304.78 198.3zM308.19 193.72L310.99 198.52L305.39 198.52zM308.8 192.98L311.6 197.78L306 197.78zM309.4 192.48L312.2 197.28L306.6 197.28zM309.99 193.12L312.79 197.92L307.19 197.92zM310.58 193.21L313.38 198.01L307.78 198.01zM311.16 193.08L313.96 197.88L308.36 197.88zM311.72 193.87L314.52 198.67L308.92 198.67zM312.29 193.54L315.09 198.34L309.49 198.34zM312.84 193.53L315.64 198.33L310.04 198.33zM313.39 193.23L316.19 198.03L310.59 198.03zM313.93 193.43L316.73 198.23L311.13 198.23zM314.46 194.12L317.26 198.92L311.66 198.92zM314.99 192.8L317.79 197.6L312.19 197.6zM315.51 192.49L318.31 197.29L312.71 197.29zM316.03 193.62L318.83 198.42L313.23 198.42zM316.54 193.26L319.34 198.06L313.74 198.06zM317.04 193.35L319.84 198.15L314.24 198.15zM317.54 193.06L320.34 197.86L314.74 197.86zM318.03 194.38L320.83 199.18L315.23 199.18zM318.51 192.61L321.31 197.41L315.71 197.41zM319 193.83L321.8 198.63L316.2 198.63zM319.47 192.84L322.27 197.64L316.67 197.64zM319.94 193.54L322.74 198.34L317.14 198.34zM320.41 193.82L323.21 198.62L317.61 198.62zM320.87 193.69L323.67 198.49L318.07 198.49zM321.32 193.1L324.12 197.9L318.52 197.9zM321.77 194.14L324.57 198.94L318.97 198.94zM322.22 193.86L325.02 198.66L319.42 198.66zM322.66 193.94L325.46 198.74L319.86 198.74zM323.1 194.68L325.9 199.48L320.3 199.48z"/>
<path d="M50.42 141.08h4.4v4.4h-4.4zM80.59 165.59h4.4v4.4h-4.4zM98.24 174.07h4.4v4.4h-4.4zM110.76 178.55h4.4v4.4h-4.4zM120.47 181.38h4.4v4.4h-4.4zM128.4 184.44h4.4v4.4h-4.4zM135.11 187.03h4.4v4.4h-4.4zM140.92 187.51h4.4v4.4h-4.4zM146.05 187.98h4.4v4.4h-4.4zM150.64 189.18h4.4v4.4h-4.4zM154.78 189.82h4.4v4.4h-4.4zM158.57 190.16h4.4v4.4h-4.4zM162.06 191.31h4.4v4.4h-4.4zM165.28 191.2h4.4v4.4h-4.4zM168.28 191.67h4.4v4.4h-4.4zM171.09 192.41h4.4v4.4h-4.4zM173.73 192.75h4.4v4.4h-4.4zM176.22 192.74h4.4v4.4h-4.4zM178.57 192.74h4.4v4.4h-4.4zM180.8 193.05h4.4v4.4h-4.4zM182.93 193.96h4.4v4.4h-4.4zM184.95 193.9h4.4v4.4h-4.4zM186.89 194.82h4.4v4.4h-4.4zM188.74 194.57h4.4v4.4h-4.4zM190.52 195.37h4.4v4.4h-4.4zM192.22 194.85h4.4v4.4h-4.4zM193.87 195.88h4.4v4.4h-4.4zM195.45 195.94h4.4v4.4h-4.4zM196.98 195.69h4.4v4.4h-4.4zM198.45 195.59h4.4v4.4h-4.4zM199.88 196.62h4.4v4.4h-4.4zM201.26 196.36h4.4v4.4h-4.4zM202.6 196.19h4.4v4.4h-4.4zM203.9 196.27h4.4v4.4h-4.4zM205.16 196.87h4.4v4.4h-4.4zM206.39 196.57h4.4v4.4h-4.4zM207.58 196.84h4.4v4.4h-4.4zM208.74 196.19h4.4v4.4h-4.4zM209.87 196.67h4.4v4.4h-4.4zM210.97 197.63h4.4v4.4h-4.4zM212.05 198.14h4.4v4.4h-4.4zM213.1 197.18h4.4v4.4h-4.4zM214.12 196.78h4.4v4.4h-4.4zM215.12 197.33h4.4v4.4h-4.4zM216.1 197.1h4.4v4.4h-4.4zM217.06 197.82h4.4v4.4h-4.4zM217.99 198.32h4.4v4.4h-4.4zM218.91 197.41h4.4v4.4h-4.4zM219.81 197.8h4.4v4.4h-4.4zM220.68 197.61h4.4v4.4h-4.4zM224.83 198.96h4.4v4.4h-4.4zM228.62 198.53h4.4v4.4h-4.4zM232.1 199.2h4.4v4.4h-4.4zM235.33 198.73h4.4v4.4h-4.4zM238.33 199.61h4.4v4.4h-4.4zM241.14 199.79h4.4v4.4h-4.4zM243.78 199.91h4.4v4.4h-4.4zM246.27 199.08h4.4v4.4h-4.4zM248.62 199.78h4.4v4.4h-4.4zM250.85 200.26h4.4v4.4h-4.4zM252.98 200.46h4.4v4.4h-4.4zM255 200.54h4.4v4.4h-4.4zM256.94 199.3h4.4v4.4h-4.4zM258.79 201.06h4.4v4.4h-4.4zM260.56 200.61h4.4v4.4h-4.4zM262.27 199.88h4.4v4.4h-4.4zM263.91 199.64h4.4v4.4h-4.4zM265.5 200.39h4.4v4.4h-4.4zM267.02 199.93h4.4v4.4h-4.4zM268.5 199.99h4.4v4.4h-4.4zM269.93 199.9h4.4v4.4h-4.4zM271.31 200.44h4.4v4.4h-4.4zM272.65 199.61h4.4v4.4h-4.4zM273.95 200.42h4.4v4.4h-4.4zM275.21 199.72h4.4v4.4h-4.4zM276.43 201.18h4.4v4.4h-4.4zM277.63 200.1h4.4v4.4h-4.4zM278.79 201.32h4.4v4.4h-4.4zM279.92 201.48h4.4v4.4h-4.4zM281.02 200.41h4.4v4.4h-4.4zM282.09 201.16h4.4v4.4h-4.4zM283.14 200.48h4.4v4.4h-4.4zM284.17 201.34h4.4v4.4h-4.4zM285.17 199.88h4.4v4.4h-4.4zM286.15 200.78h4.4v4.4h-4.4zM287.1 201.43h4.4v4.4h-4.4zM288.04 200.72h4.4v4.4h-4.4zM288.96 200.35h4.4v4.4h-4.4zM289.85 201.28h4.4v4.4h-4.4zM290.73 200.58h4.4v4.4h-4.4zM291.59 199.73h4.4v4.4h-4.4zM292.44 200.41h4.4v4.4h-4.4zM293.27 200.91h4.4v4.4h-4.4zM294.08 201.24h4.4v4.4h-4.4zM294.88 200.61h4.4v4.4h-4.4zM295.66 201.8h4.4v4.4h-4.4zM296.43 202.67h4.4v4.4h-4.4zM297.19 201.34h4.4v4.4h-4.4zM297.94 201.59h4.4v4.4h-4.4zM298.67 199.99h4.4v4.4h-4.4zM299.39 200.92h4.4v4.4h-4.4zM300.09 201.56h4.4v4.4h-4.4zM300.79 201.67h4.4v4.4h-4.4zM301.48 200.73h4.4v4.4h-4.4zM302.15 201.5h4.4v4.4h-4.4zM302.82 201.37h4.4v4.4h-4.4zM303.47 201.09h4.4v4.4h-4.4zM304.11 201h4.4v4.4h-4.4zM304.75 201h4.4v4.4h-4.4zM305.38 200.99h4.4v4.4h-4.4zM305.99 200.31h4.4v4.4h-4.4zM306.6 200.09h4.4v4.4h-4.4zM307.2 202.03h4.4v4.4h-4.4zM307.79 199.59h4.4v4.4h-4.4zM308.38 201.01h4.4v4.4h-4.4zM308.96 200.37h4.4v4.4h-4.4zM309.52 201.52h4.4v4.4h-4.4zM310.09 200.91h4.4v4.4h-4.4zM310.64 200.97h4.4v4.4h-4.4zM311.19 201.03h4.4v4.4h-4.4zM311.73 200.61h4.4v4.4h-4.4zM312.26 200.74h4.4v4.4h-4.4zM312.79 201.69h4.4v4.4h-4.4zM313.31 201.18h4.4v4.4h-4.4zM313.83 200.69h4.4v4.4h-4.4zM314.34 200.72h4.4v4.4h-4.4zM314.84 201.31h4.4v4.4h-4.4zM315.34 201.28h4.4v4.4h-4.4zM315.83 201.21h4.4v4.4h-4.4zM316.31 201.77h4.4v4.4h-4.4zM316.8 201.88h4.4v4.4h-4.4zM317.27 200.21h4.4v4.4h-4.4zM317.74 201.36h4.4v4.4h-4.4zM318.21 201.07h4.4v4.4h-4.4zM318.67 201.57h4.4v4.4h-4.4zM319.12 200.37h4.4v4.4h-4.4zM319.57 200.1h4.4v4.4h-4.4zM320.02 201.26h4.4v4.4h-4.4zM320.46 200.83h4.4v4.4h-4.4zM320.9 201.57h4.4v4.4h-4.4z"/>
</g>
<g fill="none" stroke="#000" stroke-width="0.9">
<path d="M40.5 216.1h2.8M323.5 216.1h-2.8M40.5 192.53h2.8M323.5 192.53h-2.8M40.5 168.97h2.8M323.5 168.97h-2.8M40.5 145.4h2.8M323.5 145.4h-2.8M40.5 121.83h2.8M323.5 121.83h-2.8M40.5 98.27h2.8M323.5 98.27h-2.8M40.5 74.7h2.8M323.5 74.7h-2.8M40.5 51.13h2.8M323.5 51.13h-2.8M40.5 27.57h2.8M323.5 27.57h-2.8M40.5 4h2.8M323.5 4h-2.8M53.02 216.1v-1.68M53.02 4v1.68M70.67 216.1v-1.68M70.67 4v1.68M83.19 216.1v-1.68M83.19 4v1.68M92.9 216.1v-1.68M92.9 4v1.68M100.84 216.1v-1.68M100.84 4v1.68M107.54 216.1v-1.68M107.54 4v1.68M113.36 216.1v-1.68M113.36 4v1.68M118.48 216.1v-1.68M118.48 4v1.68M123.07 216.1v-2.8M123.07 4v2.8M153.24 216.1v-1.68M153.24 4v1.68M170.88 216.1v-1.68M170.88 4v1.68M183.4 216.1v-1.68M183.4 4v1.68M193.12 216.1v-1.68M193.12 4v1.68M201.05 216.1v-1.68M201.05 4v1.68M207.76 216.1v-1.68M207.76 4v1.68M213.57 216.1v-1.68M213.57 4v1.68M218.7 216.1v-1.68M218.7 4v1.68M223.28 216.1v-2.8M223.28 4v2.8M253.45 216.1v-1.68M253.45 4v1.68M271.1 216.1v-1.68M271.1 4v1.68M283.62 216.1v-1.68M283.62 4v1.68M293.33 216.1v-1.68M293.33 4v1.68M301.27 216.1v-1.68M301.27 4v1.68M307.98 216.1v-1.68M307.98 4v1.68M313.79 216.1v-1.68M313.79 4v1.68M318.91 216.1v-1.68M318.91 4v1.68"/>
<rect x="40.5" y="4" width="283" height="212.1"/>
</g>
<g font-size="11.6px" text-anchor="end"><text x="36.4" y="8.1">90</text><text x="36.4" y="31.67">80</text><text x="36.4" y="55.23">70</text><text x="36.4" y="78.8">60</text><text x="36.4" y="102.37">50</text><text x="36.4" y="125.93">40</text><text x="36.4" y="149.5">30</text><text x="36.4" y="173.07">20</text><text x="36.4" y="196.63">10</text><text x="36.4" y="220.2">0</text></g>
<g font-size="11.6px">
<text x="114.2" y="236">10</text><text x="127" y="228.3" font-size="8px">1</text>
<text x="214.4" y="236">10</text><text x="227.2" y="228.3" font-size="8px">2</text>
<text x="314.7" y="236">10</text><text x="327.6" y="228.3" font-size="8px">3</text>
<text x="149.8" y="242.6">Time, t (s)</text>
<text transform="translate(11.6 186.1) rotate(-90)">Dark current density, J<tspan font-size="8.4px" dy="5.2">d</tspan><tspan dy="-5.2" dx="-0.6"> (pA/cm</tspan><tspan font-size="8.4px" dy="-6.2">2</tspan><tspan dy="6.2">)</tspan></text>
<text x="101.8" y="32.6">n<tspan font-size="9.8px" dx="0.6" dy="-0.4">&#8211;</tspan><tspan dx="0.5" dy="0.4">i</tspan><tspan font-size="9.8px" dx="0.6" dy="-0.4">&#8211;</tspan><tspan dx="0.5" dy="0.4">p</tspan></text>
<text x="101.8" y="46">sample</text>
<text x="102.2" y="59.9">L=1000&#956;m</text>
</g>
<rect x="183.9" y="10.6" width="136.2" height="88.6" fill="#fff" stroke="#000" stroke-width="0.9"/>
<g fill="none" stroke="#000" stroke-width="0.8">
<path d="M217.7 24.7l2.1 2.6l-2.1 2.6l-2.1 -2.6z"/>
<path d="M217.8 51.3L220.8 56.5L214.8 56.5z"/>
<path d="M215.3 80h4.6v4.6h-4.6z"/>
</g>
<g font-size="11.6px">
<text x="247.1" y="28.9">F<tspan font-size="8.4px" dy="6.2" dx="0.4">0</tspan><tspan dy="-6.2">=10V/&#956;m</tspan></text>
<text x="247.1" y="56.5">F<tspan font-size="8.4px" dy="6.2" dx="0.4">0</tspan><tspan dy="-6.2">=7V/&#956;m</tspan></text>
<text x="247.1" y="84.1">F<tspan font-size="8.4px" dy="6.2" dx="0.4">0</tspan><tspan dy="-6.2">=5V/&#956;m</tspan></text>
</g>
</svg>
</body></html>
